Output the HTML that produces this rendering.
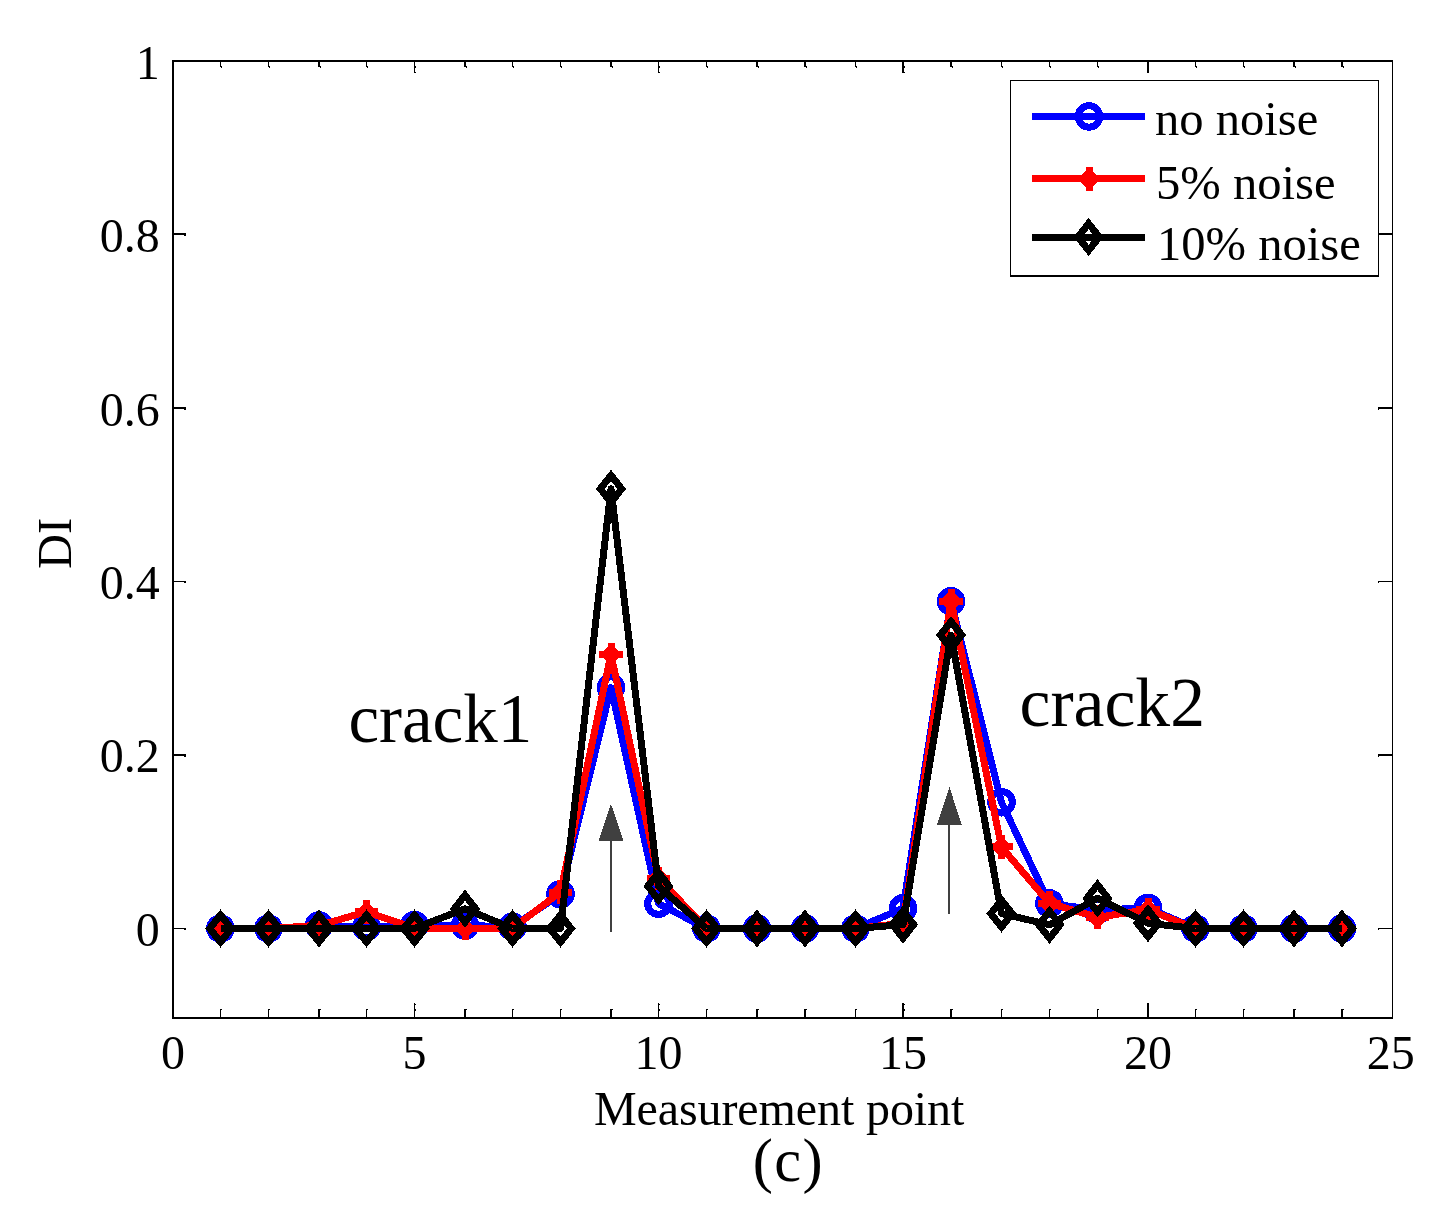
<!DOCTYPE html>
<html lang="en"><head><meta charset="utf-8"><title>DI vs measurement point (c)</title>
<style>html,body{margin:0;padding:0;background:#fff;}body{width:1455px;height:1227px;overflow:hidden;}svg{display:block;shape-rendering:crispEdges;}text{font-family:"Liberation Serif", serif;fill:#000;}</style></head><body>
<svg width="1455" height="1227" viewBox="0 0 1455 1227">
<rect x="0" y="0" width="1455" height="1227" fill="#fff"/>
<g stroke="#000" fill="none" shape-rendering="crispEdges">
<line x1="172" y1="61" x2="1393" y2="61" stroke-width="2"/>
<line x1="172" y1="1018" x2="1393" y2="1018" stroke-width="2"/>
<line x1="173" y1="60" x2="173" y2="1019" stroke-width="2"/>
<line x1="1392.5" y1="60" x2="1392.5" y2="1019" stroke-width="1"/>
</g>
<g fill="#000" shape-rendering="crispEdges">
<rect x="220" y="1009" width="1" height="8"/>
<rect x="221" y="1009" width="1" height="1"/>
<rect x="220" y="62" width="1" height="5"/>
<rect x="221" y="66" width="1" height="2"/>
<rect x="268" y="1009" width="1" height="8"/>
<rect x="269" y="1009" width="1" height="1"/>
<rect x="268" y="62" width="1" height="5"/>
<rect x="269" y="66" width="1" height="2"/>
<rect x="318" y="1009" width="2" height="8"/>
<rect x="320" y="1009" width="1" height="1"/>
<rect x="318" y="62" width="2" height="5"/>
<rect x="320" y="66" width="1" height="2"/>
<rect x="366" y="1009" width="1" height="8"/>
<rect x="367" y="1009" width="1" height="1"/>
<rect x="366" y="62" width="1" height="5"/>
<rect x="367" y="66" width="1" height="2"/>
<rect x="414" y="1003" width="1" height="14"/>
<rect x="414" y="62" width="1" height="11"/>
<rect x="415" y="1004" width="1" height="1"/>
<rect x="415" y="1009" width="1" height="2"/>
<rect x="415" y="72" width="1" height="1"/>
<rect x="415" y="66" width="1" height="2"/>
<rect x="464" y="1009" width="2" height="8"/>
<rect x="466" y="1009" width="1" height="1"/>
<rect x="464" y="62" width="2" height="5"/>
<rect x="466" y="66" width="1" height="2"/>
<rect x="512" y="1009" width="1" height="8"/>
<rect x="513" y="1009" width="1" height="1"/>
<rect x="512" y="62" width="1" height="5"/>
<rect x="513" y="66" width="1" height="2"/>
<rect x="560" y="1009" width="1" height="8"/>
<rect x="561" y="1009" width="1" height="1"/>
<rect x="560" y="62" width="1" height="5"/>
<rect x="561" y="66" width="1" height="2"/>
<rect x="610" y="1009" width="2" height="8"/>
<rect x="612" y="1009" width="1" height="1"/>
<rect x="610" y="62" width="2" height="5"/>
<rect x="612" y="66" width="1" height="2"/>
<rect x="658" y="1003" width="1" height="14"/>
<rect x="658" y="62" width="1" height="11"/>
<rect x="659" y="1004" width="1" height="1"/>
<rect x="659" y="1009" width="1" height="2"/>
<rect x="659" y="72" width="1" height="1"/>
<rect x="659" y="66" width="1" height="2"/>
<rect x="706" y="1009" width="1" height="8"/>
<rect x="707" y="1009" width="1" height="1"/>
<rect x="706" y="62" width="1" height="5"/>
<rect x="707" y="66" width="1" height="2"/>
<rect x="756" y="1009" width="2" height="8"/>
<rect x="758" y="1009" width="1" height="1"/>
<rect x="756" y="62" width="2" height="5"/>
<rect x="758" y="66" width="1" height="2"/>
<rect x="804" y="1009" width="2" height="8"/>
<rect x="806" y="1009" width="1" height="1"/>
<rect x="804" y="62" width="2" height="5"/>
<rect x="806" y="66" width="1" height="2"/>
<rect x="855" y="1009" width="1" height="8"/>
<rect x="856" y="1009" width="1" height="1"/>
<rect x="855" y="62" width="1" height="5"/>
<rect x="856" y="66" width="1" height="2"/>
<rect x="902" y="1003" width="2" height="14"/>
<rect x="902" y="62" width="2" height="11"/>
<rect x="904" y="1004" width="1" height="1"/>
<rect x="904" y="1009" width="1" height="2"/>
<rect x="904" y="72" width="1" height="1"/>
<rect x="904" y="66" width="1" height="2"/>
<rect x="950" y="1009" width="2" height="8"/>
<rect x="952" y="1009" width="1" height="1"/>
<rect x="950" y="62" width="2" height="5"/>
<rect x="952" y="66" width="1" height="2"/>
<rect x="1001" y="1009" width="1" height="8"/>
<rect x="1002" y="1009" width="1" height="1"/>
<rect x="1001" y="62" width="1" height="5"/>
<rect x="1002" y="66" width="1" height="2"/>
<rect x="1049" y="1009" width="1" height="8"/>
<rect x="1050" y="1009" width="1" height="1"/>
<rect x="1049" y="62" width="1" height="5"/>
<rect x="1050" y="66" width="1" height="2"/>
<rect x="1097" y="1009" width="1" height="8"/>
<rect x="1098" y="1009" width="1" height="1"/>
<rect x="1097" y="62" width="1" height="5"/>
<rect x="1098" y="66" width="1" height="2"/>
<rect x="1147" y="1003" width="2" height="14"/>
<rect x="1147" y="62" width="2" height="11"/>
<rect x="1195" y="1009" width="1" height="8"/>
<rect x="1196" y="1009" width="1" height="1"/>
<rect x="1195" y="62" width="1" height="5"/>
<rect x="1196" y="66" width="1" height="2"/>
<rect x="1243" y="1009" width="1" height="8"/>
<rect x="1244" y="1009" width="1" height="1"/>
<rect x="1243" y="62" width="1" height="5"/>
<rect x="1244" y="66" width="1" height="2"/>
<rect x="1293" y="1009" width="2" height="8"/>
<rect x="1295" y="1009" width="1" height="1"/>
<rect x="1293" y="62" width="2" height="5"/>
<rect x="1295" y="66" width="1" height="2"/>
<rect x="1341" y="1009" width="2" height="8"/>
<rect x="1343" y="1009" width="1" height="1"/>
<rect x="1341" y="62" width="2" height="5"/>
<rect x="1343" y="66" width="1" height="2"/>
<rect x="174" y="928" width="12" height="1"/>
<rect x="184" y="929" width="2" height="1"/>
<rect x="1378" y="928" width="14" height="1"/>
<rect x="1378" y="929" width="1" height="1"/>
<rect x="174" y="754" width="12" height="2"/>
<rect x="184" y="756" width="2" height="1"/>
<rect x="1378" y="754" width="14" height="2"/>
<rect x="1378" y="756" width="1" height="1"/>
<rect x="174" y="581" width="12" height="1"/>
<rect x="184" y="582" width="2" height="1"/>
<rect x="1378" y="581" width="14" height="1"/>
<rect x="1378" y="582" width="1" height="1"/>
<rect x="174" y="407" width="12" height="2"/>
<rect x="184" y="409" width="2" height="1"/>
<rect x="1378" y="407" width="14" height="2"/>
<rect x="1378" y="409" width="1" height="1"/>
<rect x="174" y="233" width="12" height="2"/>
<rect x="184" y="235" width="2" height="1"/>
<rect x="1378" y="233" width="14" height="2"/>
<rect x="1378" y="235" width="1" height="1"/>
</g>
<g font-size="48">
<text x="173" y="1069" text-anchor="middle">0</text>
<text x="414.5" y="1069" text-anchor="middle">5</text>
<text x="658.5" y="1069" text-anchor="middle">10</text>
<text x="903" y="1069" text-anchor="middle">15</text>
<text x="1148" y="1069" text-anchor="middle">20</text>
<text x="1390.75" y="1069" text-anchor="middle">25</text>
<text x="159.8" y="945.7" text-anchor="end">0</text>
<text x="159.8" y="772.34" text-anchor="end">0.2</text>
<text x="159.8" y="598.98" text-anchor="end">0.4</text>
<text x="159.8" y="425.62" text-anchor="end">0.6</text>
<text x="159.8" y="252.26" text-anchor="end">0.8</text>
<text x="159.8" y="78.9" text-anchor="end">1</text>
</g>
<text x="594" y="1125" font-size="48" letter-spacing="-0.1">Measurement point</text>
<text x="752.8" y="1181" font-size="60.5" letter-spacing="1.3">(c)</text>
<text transform="translate(71.2,543.4) rotate(-90)" font-size="48.5" text-anchor="middle">DI</text>
<rect x="610" y="839.5" width="2" height="92.2" fill="#404040" shape-rendering="crispEdges"/>
<polygon points="611,804 623.4,840.5 598.6,840.5" fill="#404040"/>
<rect x="948.4" y="823.7" width="2" height="90.6" fill="#404040" shape-rendering="crispEdges"/>
<polygon points="949.4,787 961.8,824.7 937,824.7" fill="#404040"/>
<polyline points="220.5,928.5 268.5,928.5 319,925.38 366.5,926.76 414.5,925.03 465,925.46 512.5,926.76 560.5,894.21 611,687.63 658.5,903.59 706.5,928.5 757,928.5 805,928.5 855.5,928.5 903,908.36 951,601.26 1001.5,802.29 1049.5,903.5 1097.5,910.01 1148,907.93 1195.5,928.5 1243.5,928.5 1294,928.5 1342,928.5" fill="none" stroke="#0000ff" stroke-width="7" stroke-linejoin="round"/>
<circle cx="220.5" cy="928.5" r="10.8" fill="none" stroke="#0000ff" stroke-width="7"/>
<circle cx="268.5" cy="928.5" r="10.8" fill="none" stroke="#0000ff" stroke-width="7"/>
<circle cx="319" cy="925.38" r="10.8" fill="none" stroke="#0000ff" stroke-width="7"/>
<circle cx="366.5" cy="926.76" r="10.8" fill="none" stroke="#0000ff" stroke-width="7"/>
<circle cx="414.5" cy="925.03" r="10.8" fill="none" stroke="#0000ff" stroke-width="7"/>
<circle cx="465" cy="925.46" r="10.8" fill="none" stroke="#0000ff" stroke-width="7"/>
<circle cx="512.5" cy="926.76" r="10.8" fill="none" stroke="#0000ff" stroke-width="7"/>
<circle cx="560.5" cy="894.21" r="10.8" fill="none" stroke="#0000ff" stroke-width="7"/>
<circle cx="611" cy="687.63" r="10.8" fill="none" stroke="#0000ff" stroke-width="7"/>
<circle cx="658.5" cy="903.59" r="10.8" fill="none" stroke="#0000ff" stroke-width="7"/>
<circle cx="706.5" cy="928.5" r="10.8" fill="none" stroke="#0000ff" stroke-width="7"/>
<circle cx="757" cy="928.5" r="10.8" fill="none" stroke="#0000ff" stroke-width="7"/>
<circle cx="805" cy="928.5" r="10.8" fill="none" stroke="#0000ff" stroke-width="7"/>
<circle cx="855.5" cy="928.5" r="10.8" fill="none" stroke="#0000ff" stroke-width="7"/>
<circle cx="903" cy="908.36" r="10.8" fill="none" stroke="#0000ff" stroke-width="7"/>
<circle cx="951" cy="601.26" r="10.8" fill="none" stroke="#0000ff" stroke-width="7"/>
<circle cx="1001.5" cy="802.29" r="10.8" fill="none" stroke="#0000ff" stroke-width="7"/>
<circle cx="1049.5" cy="903.5" r="10.8" fill="none" stroke="#0000ff" stroke-width="7"/>
<circle cx="1097.5" cy="910.01" r="10.8" fill="none" stroke="#0000ff" stroke-width="7"/>
<circle cx="1148" cy="907.93" r="10.8" fill="none" stroke="#0000ff" stroke-width="7"/>
<circle cx="1195.5" cy="928.5" r="10.8" fill="none" stroke="#0000ff" stroke-width="7"/>
<circle cx="1243.5" cy="928.5" r="10.8" fill="none" stroke="#0000ff" stroke-width="7"/>
<circle cx="1294" cy="928.5" r="10.8" fill="none" stroke="#0000ff" stroke-width="7"/>
<circle cx="1342" cy="928.5" r="10.8" fill="none" stroke="#0000ff" stroke-width="7"/>
<polyline points="220.5,928.5 268.5,928.5 319,925.46 366.5,911.83 414.5,928.07 465,928.5 512.5,928.5 560.5,892.04 611,654.47 658.5,878.5 706.5,928.5 757,928.5 805,928.5 855.5,928.5 903,923.29 951,601 1001.5,846.99 1049.5,903.33 1097.5,917.3 1148,909.58 1195.5,928.5 1243.5,928.5 1294,928.5 1342,928.5" fill="none" stroke="#ff0000" stroke-width="7" stroke-linejoin="round"/>
<g transform="translate(220.5,928.5)" fill="#ff0000"><rect x="-3.5" y="-11.9" width="7" height="23.8"/><rect x="-11.9" y="-3.5" width="23.8" height="7"/><polygon points="0,-11.3 11.3,0 0,11.3 -11.3,0"/></g>
<g transform="translate(268.5,928.5)" fill="#ff0000"><rect x="-3.5" y="-11.9" width="7" height="23.8"/><rect x="-11.9" y="-3.5" width="23.8" height="7"/><polygon points="0,-11.3 11.3,0 0,11.3 -11.3,0"/></g>
<g transform="translate(319,925.46)" fill="#ff0000"><rect x="-3.5" y="-11.9" width="7" height="23.8"/><rect x="-11.9" y="-3.5" width="23.8" height="7"/><polygon points="0,-11.3 11.3,0 0,11.3 -11.3,0"/></g>
<g transform="translate(366.5,911.83)" fill="#ff0000"><rect x="-3.5" y="-11.9" width="7" height="23.8"/><rect x="-11.9" y="-3.5" width="23.8" height="7"/><polygon points="0,-11.3 11.3,0 0,11.3 -11.3,0"/></g>
<g transform="translate(414.5,928.07)" fill="#ff0000"><rect x="-3.5" y="-11.9" width="7" height="23.8"/><rect x="-11.9" y="-3.5" width="23.8" height="7"/><polygon points="0,-11.3 11.3,0 0,11.3 -11.3,0"/></g>
<g transform="translate(465,928.5)" fill="#ff0000"><rect x="-3.5" y="-11.9" width="7" height="23.8"/><rect x="-11.9" y="-3.5" width="23.8" height="7"/><polygon points="0,-11.3 11.3,0 0,11.3 -11.3,0"/></g>
<g transform="translate(512.5,928.5)" fill="#ff0000"><rect x="-3.5" y="-11.9" width="7" height="23.8"/><rect x="-11.9" y="-3.5" width="23.8" height="7"/><polygon points="0,-11.3 11.3,0 0,11.3 -11.3,0"/></g>
<g transform="translate(560.5,892.04)" fill="#ff0000"><rect x="-3.5" y="-11.9" width="7" height="23.8"/><rect x="-11.9" y="-3.5" width="23.8" height="7"/><polygon points="0,-11.3 11.3,0 0,11.3 -11.3,0"/></g>
<g transform="translate(611,654.47)" fill="#ff0000"><rect x="-3.5" y="-11.9" width="7" height="23.8"/><rect x="-11.9" y="-3.5" width="23.8" height="7"/><polygon points="0,-11.3 11.3,0 0,11.3 -11.3,0"/></g>
<g transform="translate(658.5,878.5)" fill="#ff0000"><rect x="-3.5" y="-11.9" width="7" height="23.8"/><rect x="-11.9" y="-3.5" width="23.8" height="7"/><polygon points="0,-11.3 11.3,0 0,11.3 -11.3,0"/></g>
<g transform="translate(706.5,928.5)" fill="#ff0000"><rect x="-3.5" y="-11.9" width="7" height="23.8"/><rect x="-11.9" y="-3.5" width="23.8" height="7"/><polygon points="0,-11.3 11.3,0 0,11.3 -11.3,0"/></g>
<g transform="translate(757,928.5)" fill="#ff0000"><rect x="-3.5" y="-11.9" width="7" height="23.8"/><rect x="-11.9" y="-3.5" width="23.8" height="7"/><polygon points="0,-11.3 11.3,0 0,11.3 -11.3,0"/></g>
<g transform="translate(805,928.5)" fill="#ff0000"><rect x="-3.5" y="-11.9" width="7" height="23.8"/><rect x="-11.9" y="-3.5" width="23.8" height="7"/><polygon points="0,-11.3 11.3,0 0,11.3 -11.3,0"/></g>
<g transform="translate(855.5,928.5)" fill="#ff0000"><rect x="-3.5" y="-11.9" width="7" height="23.8"/><rect x="-11.9" y="-3.5" width="23.8" height="7"/><polygon points="0,-11.3 11.3,0 0,11.3 -11.3,0"/></g>
<g transform="translate(903,923.29)" fill="#ff0000"><rect x="-3.5" y="-11.9" width="7" height="23.8"/><rect x="-11.9" y="-3.5" width="23.8" height="7"/><polygon points="0,-11.3 11.3,0 0,11.3 -11.3,0"/></g>
<g transform="translate(951,601)" fill="#ff0000"><rect x="-3.5" y="-11.9" width="7" height="23.8"/><rect x="-11.9" y="-3.5" width="23.8" height="7"/><polygon points="0,-11.3 11.3,0 0,11.3 -11.3,0"/></g>
<g transform="translate(1001.5,846.99)" fill="#ff0000"><rect x="-3.5" y="-11.9" width="7" height="23.8"/><rect x="-11.9" y="-3.5" width="23.8" height="7"/><polygon points="0,-11.3 11.3,0 0,11.3 -11.3,0"/></g>
<g transform="translate(1049.5,903.33)" fill="#ff0000"><rect x="-3.5" y="-11.9" width="7" height="23.8"/><rect x="-11.9" y="-3.5" width="23.8" height="7"/><polygon points="0,-11.3 11.3,0 0,11.3 -11.3,0"/></g>
<g transform="translate(1097.5,917.3)" fill="#ff0000"><rect x="-3.5" y="-11.9" width="7" height="23.8"/><rect x="-11.9" y="-3.5" width="23.8" height="7"/><polygon points="0,-11.3 11.3,0 0,11.3 -11.3,0"/></g>
<g transform="translate(1148,909.58)" fill="#ff0000"><rect x="-3.5" y="-11.9" width="7" height="23.8"/><rect x="-11.9" y="-3.5" width="23.8" height="7"/><polygon points="0,-11.3 11.3,0 0,11.3 -11.3,0"/></g>
<g transform="translate(1195.5,928.5)" fill="#ff0000"><rect x="-3.5" y="-11.9" width="7" height="23.8"/><rect x="-11.9" y="-3.5" width="23.8" height="7"/><polygon points="0,-11.3 11.3,0 0,11.3 -11.3,0"/></g>
<g transform="translate(1243.5,928.5)" fill="#ff0000"><rect x="-3.5" y="-11.9" width="7" height="23.8"/><rect x="-11.9" y="-3.5" width="23.8" height="7"/><polygon points="0,-11.3 11.3,0 0,11.3 -11.3,0"/></g>
<g transform="translate(1294,928.5)" fill="#ff0000"><rect x="-3.5" y="-11.9" width="7" height="23.8"/><rect x="-11.9" y="-3.5" width="23.8" height="7"/><polygon points="0,-11.3 11.3,0 0,11.3 -11.3,0"/></g>
<g transform="translate(1342,928.5)" fill="#ff0000"><rect x="-3.5" y="-11.9" width="7" height="23.8"/><rect x="-11.9" y="-3.5" width="23.8" height="7"/><polygon points="0,-11.3 11.3,0 0,11.3 -11.3,0"/></g>
<polyline points="220.5,928.5 268.5,928.5 319,928.5 366.5,928.5 414.5,928.5 465,908.71 512.5,928.5 560.5,928.5 611,488.86 658.5,886.23 706.5,928.5 757,928.5 805,928.5 855.5,928.5 903,924.59 951,635.12 1001.5,913.57 1049.5,924.77 1097.5,898.29 1148,923.21 1195.5,928.5 1243.5,928.5 1294,928.5 1342,928.5" fill="none" stroke="#000" stroke-width="7" stroke-linejoin="round"/>
<polygon points="220.5,915 231.2,928.5 220.5,942 209.8,928.5" fill="none" stroke="#000" stroke-width="7" stroke-linejoin="miter"/>
<polygon points="268.5,915 279.2,928.5 268.5,942 257.8,928.5" fill="none" stroke="#000" stroke-width="7" stroke-linejoin="miter"/>
<polygon points="319,915 329.7,928.5 319,942 308.3,928.5" fill="none" stroke="#000" stroke-width="7" stroke-linejoin="miter"/>
<polygon points="366.5,915 377.2,928.5 366.5,942 355.8,928.5" fill="none" stroke="#000" stroke-width="7" stroke-linejoin="miter"/>
<polygon points="414.5,915 425.2,928.5 414.5,942 403.8,928.5" fill="none" stroke="#000" stroke-width="7" stroke-linejoin="miter"/>
<polygon points="465,895.21 475.7,908.71 465,922.21 454.3,908.71" fill="none" stroke="#000" stroke-width="7" stroke-linejoin="miter"/>
<polygon points="512.5,915 523.2,928.5 512.5,942 501.8,928.5" fill="none" stroke="#000" stroke-width="7" stroke-linejoin="miter"/>
<polygon points="560.5,915 571.2,928.5 560.5,942 549.8,928.5" fill="none" stroke="#000" stroke-width="7" stroke-linejoin="miter"/>
<polygon points="611,475.36 621.7,488.86 611,502.36 600.3,488.86" fill="none" stroke="#000" stroke-width="7" stroke-linejoin="miter"/>
<polygon points="658.5,872.73 669.2,886.23 658.5,899.73 647.8,886.23" fill="none" stroke="#000" stroke-width="7" stroke-linejoin="miter"/>
<polygon points="706.5,915 717.2,928.5 706.5,942 695.8,928.5" fill="none" stroke="#000" stroke-width="7" stroke-linejoin="miter"/>
<polygon points="757,915 767.7,928.5 757,942 746.3,928.5" fill="none" stroke="#000" stroke-width="7" stroke-linejoin="miter"/>
<polygon points="805,915 815.7,928.5 805,942 794.3,928.5" fill="none" stroke="#000" stroke-width="7" stroke-linejoin="miter"/>
<polygon points="855.5,915 866.2,928.5 855.5,942 844.8,928.5" fill="none" stroke="#000" stroke-width="7" stroke-linejoin="miter"/>
<polygon points="903,911.09 913.7,924.59 903,938.09 892.3,924.59" fill="none" stroke="#000" stroke-width="7" stroke-linejoin="miter"/>
<polygon points="951,621.62 961.7,635.12 951,648.62 940.3,635.12" fill="none" stroke="#000" stroke-width="7" stroke-linejoin="miter"/>
<polygon points="1001.5,900.07 1012.2,913.57 1001.5,927.07 990.8,913.57" fill="none" stroke="#000" stroke-width="7" stroke-linejoin="miter"/>
<polygon points="1049.5,911.27 1060.2,924.77 1049.5,938.27 1038.8,924.77" fill="none" stroke="#000" stroke-width="7" stroke-linejoin="miter"/>
<polygon points="1097.5,884.79 1108.2,898.29 1097.5,911.79 1086.8,898.29" fill="none" stroke="#000" stroke-width="7" stroke-linejoin="miter"/>
<polygon points="1148,909.71 1158.7,923.21 1148,936.71 1137.3,923.21" fill="none" stroke="#000" stroke-width="7" stroke-linejoin="miter"/>
<polygon points="1195.5,915 1206.2,928.5 1195.5,942 1184.8,928.5" fill="none" stroke="#000" stroke-width="7" stroke-linejoin="miter"/>
<polygon points="1243.5,915 1254.2,928.5 1243.5,942 1232.8,928.5" fill="none" stroke="#000" stroke-width="7" stroke-linejoin="miter"/>
<polygon points="1294,915 1304.7,928.5 1294,942 1283.3,928.5" fill="none" stroke="#000" stroke-width="7" stroke-linejoin="miter"/>
<polygon points="1342,915 1352.7,928.5 1342,942 1331.3,928.5" fill="none" stroke="#000" stroke-width="7" stroke-linejoin="miter"/>
<text x="348.4" y="741.6" font-size="69">crack1</text>
<text x="1019.5" y="725.8" font-size="69.6">crack2</text>
<rect x="1010.5" y="80.5" width="368" height="195" fill="#fff" stroke="#000" stroke-width="1" shape-rendering="crispEdges"/>
<line x1="1010" y1="276" x2="1379" y2="276" stroke="#000" stroke-width="2" shape-rendering="crispEdges"/>
<line x1="1031.9" y1="116.4" x2="1145" y2="116.4" stroke="#0000ff" stroke-width="7"/>
<circle cx="1089" cy="116.4" r="10.8" fill="none" stroke="#0000ff" stroke-width="7"/>
<line x1="1031.9" y1="178.5" x2="1145" y2="178.5" stroke="#ff0000" stroke-width="7"/>
<g transform="translate(1089,178.8)" fill="#ff0000"><rect x="-3.5" y="-11.9" width="7" height="23.8"/><rect x="-11.9" y="-3.5" width="23.8" height="7"/><polygon points="0,-11.3 11.3,0 0,11.3 -11.3,0"/></g>
<line x1="1031.9" y1="237.5" x2="1145" y2="237.5" stroke="#000" stroke-width="7"/>
<polygon points="1088.6,223.5 1099.3,237 1088.6,250.5 1077.9,237" fill="none" stroke="#000" stroke-width="7" stroke-linejoin="miter"/>
<g font-size="48.6">
<text x="1155" y="135.1">no noise</text>
<text x="1156" y="198.6">5% noise</text>
<text x="1157" y="260.2">10% noise</text>
</g>
</svg></body></html>
